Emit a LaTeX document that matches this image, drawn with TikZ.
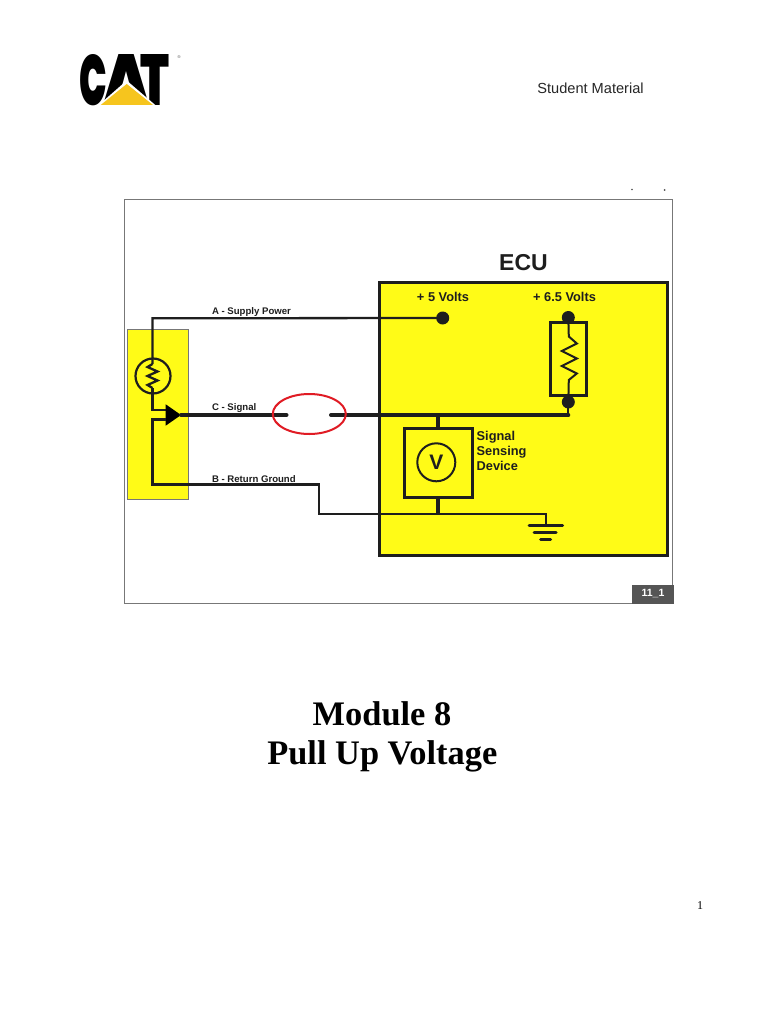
\documentclass[tikz,border=0pt]{standalone}
\usepackage{fontspec}
\usepackage{graphicx}
\usetikzlibrary{shapes.geometric}
\setmainfont{Liberation Sans}
\newfontfamily\serifbody{Liberation Serif}
\newfontfamily\logofont{Poppins Black}
\definecolor{ecuyellow}{HTML}{FFFB17}
\definecolor{wire}{HTML}{1E1E1E}
\definecolor{framegray}{HTML}{777777}
\definecolor{catyellow}{HTML}{F6C51E}
\definecolor{ringred}{HTML}{E01B24}
\definecolor{taggray}{HTML}{555555}
\tikzset{
  every node/.style={outer sep=0pt},
  wirethin/.style={draw=wire,line width=2.3pt},
  wirethick/.style={draw=wire,line width=4pt},
  terminal/.style={circle,fill=wire,draw=none,minimum size=13pt,inner sep=0pt},
  devbox/.style={draw=wire,line width=3pt,inner sep=0pt,anchor=north west},
  panel/.style={anchor=north west,inner sep=0pt,fill=ecuyellow},
  lbl/.style={font=\fontsize{9.6pt}{11pt}\selectfont\bfseries,text=wire,inner sep=0pt,anchor=base west},
  ecutxt/.style={font=\fontsize{12.8pt}{15pt}\selectfont\bfseries,text=wire,inner sep=0pt,anchor=base},
  titletxt/.style={inner sep=0pt,font=\serifbody\fontsize{34.4pt}{40pt}\selectfont\bfseries,text=black,anchor=base},
  logolet/.style={inner sep=0pt,text=black},
}
\begin{document}
\begin{tikzpicture}[x=1pt,y=-1pt]
\useasboundingbox (0,0) rectangle (768,1024);
\fill[white] (0,0) rectangle (768,1024);

% logo
\node[logolet,anchor=south west] (logoC) at (79,105.5) {\resizebox{27.5pt}{51pt}{\logofont C}};
\node[logolet,anchor=south west] (logoA) at (103,105.5) {\resizebox{46pt}{51pt}{\logofont A}};
\node[logolet,anchor=south west] (logoT) at (140,105.5) {\resizebox{29pt}{51pt}{\logofont T}};
\fill[white] (97,106.5) -- (126.7,80.5) -- (157,106.5) -- cycle;
\fill[catyellow] (100.7,105) -- (126.7,84) -- (153,105) -- cycle;
\node[inner sep=0pt,font=\fontsize{4pt}{4pt}\selectfont,text=black!70] (logoR) at (179,57) {®};

% header
\node[inner sep=0pt,font=\fontsize{14.6pt}{17pt}\selectfont,text=black!85] (hdr) at (590.5,88) {Student Material};

% frame
\node[draw=framegray,line width=1pt,minimum width=548pt,minimum height=403pt,inner sep=0pt,anchor=north west] (frame) at (124.5,200) {};
\fill[black!70] (632,189.5) circle (0.8pt) (664.5,190) circle (1pt);
\node[fill=taggray,minimum width=42pt,minimum height=19pt,inner sep=0pt,anchor=north west,text=white,font=\fontsize{10.5pt}{12pt}\selectfont\bfseries] (tag) at (632,584.5) {11\_1};

% panels
\node[panel,draw=framegray,line width=.6pt,minimum width=60.5pt,minimum height=170pt] (sensor) at (127.7,329) {};
\node[panel,draw=wire,line width=3pt,minimum width=288pt,minimum height=273.5pt] (ecu) at (379,282) {};

% titles
\node[inner sep=0pt,font=\fontsize{23pt}{26pt}\selectfont\bfseries,text=wire,anchor=base] (ecut) at (523.5,270) {ECU};
\node[ecutxt] (v5) at (443,301) {+ 5 Volts};
\node[ecutxt] (v65) at (564.5,301) {+ 6.5 Volts};
\node[lbl] (lA) at (212,314) {A - Supply Power};
\node[lbl] (lC) at (212,410.7) {C - Signal};
\node[lbl] (lB) at (212,482.3) {B - Return Ground};
\node[ecutxt,anchor=base west] (s1) at (476.7,440) {Signal};
\node[ecutxt,anchor=base west] (s2) at (476.7,455) {Sensing};
\node[ecutxt,anchor=base west] (s3) at (476.7,470.7) {Device};

% terminals
\node[terminal] (t5) at (442.7,318) {};
\node[terminal] (t65) at (568.3,317.5) {};
\node[terminal] (tsig) at (568.3,402) {};

% sensor internals
\coordinate (aTop) at (152.5,318.3);
\node[circle,draw=wire,line width=2.2pt,minimum size=35pt,inner sep=0pt] (therm) at (153,376) {};
\coordinate (thermIn) at (152.5,364);
\coordinate (thermOut) at (152.5,388);
\coordinate (sensOut) at (166,410);
\coordinate (retIn) at (166,419.5);
\coordinate (retA) at (152.5,419.5);
\coordinate (retB) at (152.5,484.5);
\coordinate (retC) at (319,484.5);
\coordinate (retD) at (319,514);
\coordinate (gnd) at (545.7,514);
\coordinate (gndT) at (545.7,525);
\coordinate (tipL) at (165.7,404.3);
\coordinate (tipB) at (165.7,425.7);
\coordinate (tip) at (181,415);
\coordinate (sigA) at (286.5,415);
\coordinate (sigB) at (331,415);
\coordinate (sigC) at (568.3,415);
\coordinate (sigJ) at (438,415);
\coordinate (gndJ) at (438,514);

\draw[wirethin] (t5.center) -- (aTop) -- (thermIn);
\draw[wirethin] (thermIn) -- ++(-5,3) -- ++(10,4.5) -- ++(-10,4.5) -- ++(10,4.5) -- ++(-10,4.5) -- ++(5,3);
\draw[wirethin] (thermOut) -- (152.5,410) -- (sensOut);
\fill[black] (tipL) -- (tip) -- (tipB) -- cycle;
\draw[wirethin] (retIn) -- (retA) -- (retB) -- (retC) -- (retD) -- (gnd) -- (gndT);
\draw[wirethick,line cap=round] (tip) -- (sigA);
\draw[wirethick,line cap=round] (sigB) -- (sigC);
\draw[wirethin] (sigC) -- (tsig.center);

% ellipse
\node[ellipse,draw=ringred,line width=2pt,minimum width=73pt,minimum height=40pt,inner sep=0pt] (ring) at (309.3,414) {};

% resistor
\node[devbox,minimum width=36pt,minimum height=72.5pt] (rbox) at (550.3,322.7) {};
\coordinate (rT) at (568.8,336.5);
\coordinate (rB) at (568.8,380);
\draw[draw=wire,line width=2pt] (t65.center) -- (rT) -- ++(8,7) -- ++(-15,7.5) -- ++(15,7.5) -- ++(-15,7.5) -- ++(15,7.5) -- (rB) -- (tsig.center);

% voltmeter
\node[devbox,minimum width=68pt,minimum height=69.5pt] (vbox) at (404,428) {};
\node[circle,draw=wire,line width=2pt,fill=none,minimum size=38pt,inner sep=0pt,font=\fontsize{21pt}{23pt}\selectfont\bfseries,text=wire] (vm) at (436.3,462.3) {V};
\draw[wirethick] (sigJ) -- (sigJ |- vbox.north);
\draw[wirethick] (sigJ |- vbox.south) -- (gndJ);

% ground
\coordinate (g1L) at (529,525);
\coordinate (g1R) at (562.7,525);
\coordinate (g2L) at (534,532.3);
\coordinate (g2R) at (556,532.3);
\coordinate (g3L) at (540.7,539);
\coordinate (g3R) at (550.7,539);
\draw[wirethick,line width=3pt,line cap=round] (g1L) -- (g1R);
\draw[wirethick,line width=3pt,line cap=round] (g2L) -- (g2R);
\draw[wirethick,line width=3pt,line cap=round] (g3L) -- (g3R);

% title
\node[titletxt] (m1) at (382,725) {Module 8};
\node[titletxt] (m2) at (382.3,764) {Pull Up Voltage};
\node[inner sep=0pt,font=\serifbody\fontsize{12pt}{14pt}\selectfont,text=black] (pg) at (700,905.5) {1};
\end{tikzpicture}
\end{document}
